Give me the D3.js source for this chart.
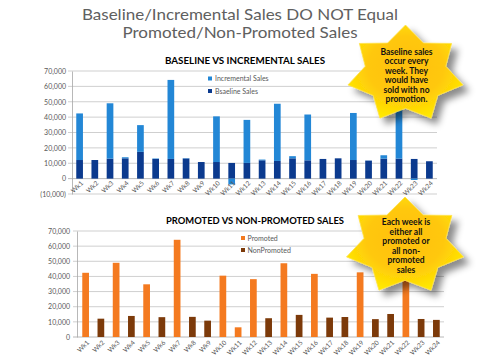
<!DOCTYPE html>
<html>
<head>
<meta charset="utf-8">
<script src="https://cdn.jsdelivr.net/npm/d3@7"></script>
<style>
  html, body { margin: 0; padding: 0; background: #ffffff; }
  svg { display: block; font-family: Lato, "Open Sans", sans-serif; }
</style>
</head>
<body>
<svg id="chart" width="480" height="360"></svg>
<script>
// ---------------- DATA ----------------
const weeks = ["Wk1","Wk2","Wk3","Wk4","Wk5","Wk6","Wk7","Wk8","Wk9","Wk10","Wk11","Wk12",
               "Wk13","Wk14","Wk15","Wk16","Wk17","Wk18","Wk19","Wk20","Wk21","Wk22","Wk23","Wk24"];
const baselineSales    = [12100,12100,13000,13200,17400,12800,12800,13100,10800,10800,10200,10200,
                          11900,11500,13200,11900,12800,13200,12100,11700,13000,13000,12800,11300];
const incrementalSales = [30300,0,36000,700,17400,300,51400,200,0,29700,-3800,28000,
                          500,37200,1400,29800,0,0,30600,100,2200,33000,-900,0];
const promotedSales    = [42400,0,49000,0,34800,0,64200,0,0,40500,6400,38200,
                          0,48700,0,41700,0,0,42700,0,0,46000,0,0];
const nonPromotedSales = [0,12100,0,13900,0,13100,0,13300,10800,0,0,0,
                          12400,0,14600,0,12800,13200,0,11800,15200,0,11900,11300];
const topTicks    = [-10000,0,10000,20000,30000,40000,50000,60000,70000];
const bottomTicks = [0,10000,20000,30000,40000,50000,60000,70000];
const mainTitle   = ["Baseline/Incremental Sales DO NOT Equal", "Promoted/Non-Promoted Sales"];
const topTitle    = "BASELINE VS INCREMENTAL SALES";
const bottomTitle = "PROMOTED VS NON-PROMOTED SALES";
const topLegend   = ["Incremental Sales", "Bsaeline Sales"];
const bottomLegend= ["Promoted", "NonPromoted"];
const note1 = ["Baseline sales","occur every","week.  They","would have","sold with no","promotion."];
const note2 = ["Each week is","either all","promoted or","all non-","promoted","sales"];

// ---------------- STYLE ----------------
const C = {
  inc: "#2387d6", base: "#0b3a8e", promo: "#f47a20", nonpromo: "#7c3a0a",
  grid: "#c3c3c3", axis: "#a6a6a6", text: "#595959"
};
const fmt = v => v < 0 ? "(" + d3.format(",")(-v) + ")" : d3.format(",")(v);

const svg = d3.select("#chart");
const defs = svg.append("defs");

// star gradient + shadow
const rg = defs.append("radialGradient").attr("id","starGrad")
  .attr("cx","50%").attr("cy","45%").attr("r","60%");
rg.append("stop").attr("offset","0%").attr("stop-color","#ffbf0c");
rg.append("stop").attr("offset","55%").attr("stop-color","#ffc80a");
rg.append("stop").attr("offset","100%").attr("stop-color","#ffee00");
const f = defs.append("filter").attr("id","shadow").attr("x","-30%").attr("y","-30%")
  .attr("width","170%").attr("height","170%");
f.append("feDropShadow").attr("dx",6).attr("dy",6).attr("stdDeviation",3.5)
  .attr("flood-color","#000").attr("flood-opacity",0.45);

// ---------------- MAIN TITLE ----------------
svg.append("text").attr("x",240).attr("y",19.5).attr("text-anchor","middle")
  .attr("font-size",15).attr("fill","#606060").attr("textLength",316)
  .attr("lengthAdjust","spacingAndGlyphs").text(mainTitle[0]);
svg.append("text").attr("x",240).attr("y",37.5).attr("text-anchor","middle")
  .attr("font-size",15).attr("fill","#606060").attr("textLength",235)
  .attr("lengthAdjust","spacingAndGlyphs").text(mainTitle[1]);

// ---------------- TOP CHART ----------------
(function(){
  const x = d3.scaleBand().domain(weeks).range([72, 437]).paddingInner(0.56).paddingOuter(0.28);
  const y = d3.scaleLinear().domain([-10000, 70000]).range([194, 71]);
  const g = svg.append("g");

  g.selectAll("line.grid").data(topTicks).join("line")
    .attr("x1", 68).attr("x2", 437)
    .attr("y1", d => y(d)).attr("y2", d => y(d))
    .attr("stroke", d => d === 0 ? C.axis : C.grid).attr("stroke-width", 0.8);
  const ax = d3.axisLeft(y).tickValues(topTicks).tickFormat(fmt).tickSize(0).tickPadding(6);
  const ag = g.append("g").attr("transform","translate(72,0)").call(ax);
  ag.select(".domain").attr("stroke", C.axis).attr("stroke-width",0.8);
  ag.selectAll("text").attr("font-size",7).attr("fill",C.text).attr("font-family","Lato, sans-serif");

  weeks.forEach((w,i) => {
    const b = baselineSales[i], inc = incrementalSales[i];
    const bx = x(w), bw = x.bandwidth();
    g.append("rect").attr("x",bx).attr("width",bw)
      .attr("y", y(b)).attr("height", y(0)-y(b)).attr("fill", C.base);
    if (inc > 0) {
      g.append("rect").attr("x",bx).attr("width",bw)
        .attr("y", y(b+inc)).attr("height", y(b)-y(b+inc)).attr("fill", C.inc);
    } else if (inc < 0) {
      g.append("rect").attr("x",bx).attr("width",bw)
        .attr("y", y(0)).attr("height", y(inc)-y(0)).attr("fill", C.inc);
    }
  });

  const xa = d3.axisBottom(x).tickSize(0).tickPadding(0);
  const xg = g.append("g").attr("transform",`translate(0,${y(0)})`).call(xa);
  xg.select(".domain").remove();
  xg.selectAll("text").attr("font-size",6.5).attr("fill",C.text)
    .attr("font-family","Lato, sans-serif")
    .attr("text-anchor","end").attr("dy",0)
    .attr("transform","translate(4,5) rotate(-45)");

  svg.append("text").attr("x",245).attr("y",64).attr("text-anchor","middle")
    .attr("font-size",10).attr("font-weight","bold").attr("fill","#000")
    .attr("textLength",160).attr("lengthAdjust","spacingAndGlyphs").text(topTitle);

  const lg = svg.append("g");
  [C.inc, C.base].forEach((c,i) => {
    lg.append("rect").attr("x",208).attr("y",76.5 + i*12.5).attr("width",4).attr("height",4).attr("fill",c);
    lg.append("text").attr("x",215).attr("y",81 + i*12.5).attr("font-size",7)
      .attr("fill",C.text).text(topLegend[i]);
  });
})();

// ---------------- BOTTOM CHART ----------------
(function(){
  const x = d3.scaleBand().domain(weeks).range([78, 444]).paddingInner(0.56).paddingOuter(0.28);
  const y = d3.scaleLinear().domain([0, 70000]).range([337, 231]);
  const g = svg.append("g");

  g.selectAll("line.grid").data(bottomTicks).join("line")
    .attr("x1", 73).attr("x2", 444)
    .attr("y1", d => y(d)).attr("y2", d => y(d))
    .attr("stroke", d => d === 0 ? C.axis : C.grid).attr("stroke-width", 0.8);
  const ax = d3.axisLeft(y).tickValues(bottomTicks).tickFormat(fmt).tickSize(0).tickPadding(7);
  const ag = g.append("g").attr("transform","translate(77,0)").call(ax);
  ag.select(".domain").attr("stroke", C.axis).attr("stroke-width",0.8);
  ag.selectAll("text").attr("font-size",7).attr("fill",C.text).attr("font-family","Lato, sans-serif");

  weeks.forEach((w,i) => {
    const bx = x(w), bw = x.bandwidth();
    if (promotedSales[i] > 0)
      g.append("rect").attr("x",bx).attr("width",bw)
        .attr("y", y(promotedSales[i])).attr("height", y(0)-y(promotedSales[i])).attr("fill", C.promo);
    if (nonPromotedSales[i] > 0)
      g.append("rect").attr("x",bx).attr("width",bw)
        .attr("y", y(nonPromotedSales[i])).attr("height", y(0)-y(nonPromotedSales[i])).attr("fill", C.nonpromo);
  });

  const xa = d3.axisBottom(x).tickSize(0).tickPadding(0);
  const xg = g.append("g").attr("transform",`translate(0,${y(0)})`).call(xa);
  xg.select(".domain").remove();
  xg.selectAll("text").attr("font-size",6.5).attr("fill",C.text)
    .attr("font-family","Lato, sans-serif")
    .attr("text-anchor","end").attr("dy",0)
    .attr("transform","translate(4,6) rotate(-45)");

  svg.append("text").attr("x",255).attr("y",224).attr("text-anchor","middle")
    .attr("font-size",10).attr("font-weight","bold").attr("fill","#000")
    .attr("textLength",178).attr("lengthAdjust","spacingAndGlyphs").text(bottomTitle);

  const lg = svg.append("g");
  [C.promo, C.nonpromo].forEach((c,i) => {
    lg.append("rect").attr("x",241).attr("y",236 + i*12).attr("width",4).attr("height",4).attr("fill",c);
    lg.append("text").attr("x",247.5).attr("y",240.5 + i*12).attr("font-size",7)
      .attr("fill",C.text).text(bottomLegend[i]);
  });
})();

// ---------------- STARS ----------------
function starPath(cx, cy, rx, ry, n, inner) {
  const pts = [];
  for (let k = 0; k < n*2; k++) {
    const a = -Math.PI/2 + k*Math.PI/n;
    const r = (k % 2 === 0) ? 1 : inner;
    pts.push([cx + rx*r*Math.cos(a), cy + ry*r*Math.sin(a)]);
  }
  return d3.line()(pts) + "Z";
}
function star(cx, cy, rx, ry, lines, firstY, step) {
  const g = svg.append("g");
  g.append("path").attr("d", starPath(cx, cy, rx, ry, 7, 0.7))
    .attr("fill","url(#starGrad)").attr("stroke","#ffe24a").attr("stroke-width",0.8)
    .attr("filter","url(#shadow)");
  lines.forEach((t,i) => {
    g.append("text").attr("x",cx+1).attr("y",firstY + i*step).attr("text-anchor","middle")
      .attr("font-size",8.5).attr("font-weight","bold").attr("fill","#111").text(t);
  });
}
star(405.5, 74, 59, 49, note1, 54.5, 9.5);
star(405, 246, 60, 49, note2, 225, 9.6);
</script>
</body>
</html>
